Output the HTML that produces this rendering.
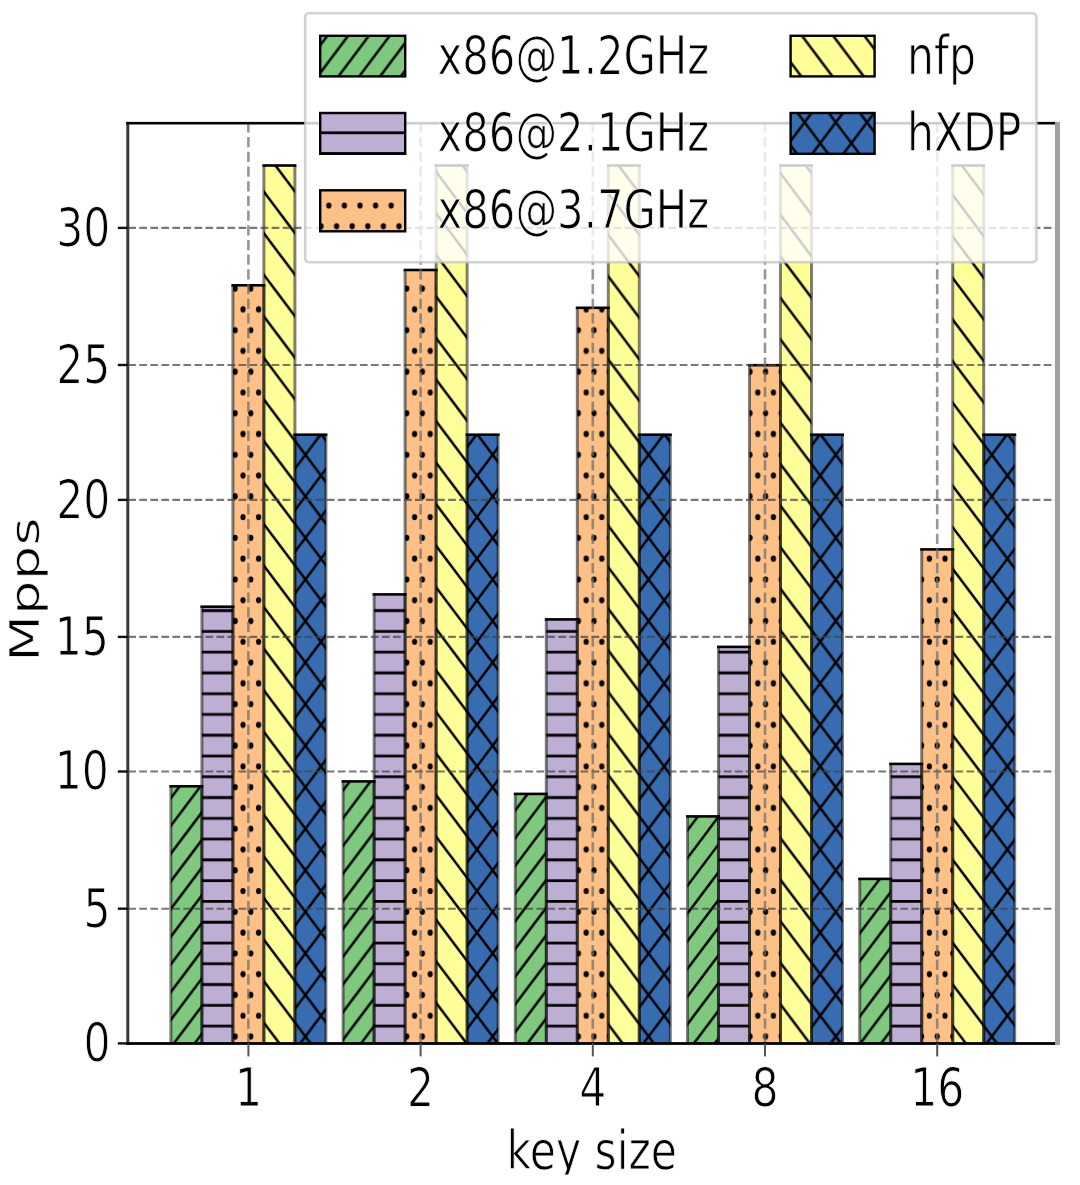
<!DOCTYPE html>
<html><head><meta charset="utf-8"><title>Mpps vs key size</title>
<style>html,body{margin:0;padding:0;background:#fff;}svg{display:block;filter:blur(0.45px);}</style>
</head><body><svg width="1080" height="1185" viewBox="0 0 1080 1185"><defs><pattern id="hg" patternUnits="userSpaceOnUse" x="9" y="16.5" width="187.2" height="249.3"><g stroke="#000" stroke-width="2.5"><line x1="-56.16" y1="47.09" x2="243.36" y2="-351.79"/><line x1="-56.16" y1="74.79" x2="243.36" y2="-324.09"/><line x1="-56.16" y1="102.49" x2="243.36" y2="-296.39"/><line x1="-56.16" y1="130.19" x2="243.36" y2="-268.69"/><line x1="-56.16" y1="157.89" x2="243.36" y2="-240.99"/><line x1="-56.16" y1="185.59" x2="243.36" y2="-213.29"/><line x1="-56.16" y1="213.29" x2="243.36" y2="-185.59"/><line x1="-56.16" y1="240.99" x2="243.36" y2="-157.89"/><line x1="-56.16" y1="268.69" x2="243.36" y2="-130.19"/><line x1="-56.16" y1="296.39" x2="243.36" y2="-102.49"/><line x1="-56.16" y1="324.09" x2="243.36" y2="-74.79"/><line x1="-56.16" y1="351.79" x2="243.36" y2="-47.09"/><line x1="-56.16" y1="379.49" x2="243.36" y2="-19.39"/><line x1="-56.16" y1="407.19" x2="243.36" y2="8.31"/><line x1="-56.16" y1="434.89" x2="243.36" y2="36.01"/><line x1="-56.16" y1="462.59" x2="243.36" y2="63.71"/><line x1="-56.16" y1="490.29" x2="243.36" y2="91.41"/><line x1="-56.16" y1="517.99" x2="243.36" y2="119.11"/><line x1="-56.16" y1="545.69" x2="243.36" y2="146.81"/><line x1="-56.16" y1="573.39" x2="243.36" y2="174.51"/><line x1="-56.16" y1="601.09" x2="243.36" y2="202.21"/></g></pattern><pattern id="hy" patternUnits="userSpaceOnUse" x="9" y="18.5" width="187.2" height="249.3"><g stroke="#000" stroke-width="2.5"><line x1="-56.16" y1="-365.64" x2="243.36" y2="33.24"/><line x1="-56.16" y1="-324.09" x2="243.36" y2="74.79"/><line x1="-56.16" y1="-282.54" x2="243.36" y2="116.34"/><line x1="-56.16" y1="-240.99" x2="243.36" y2="157.89"/><line x1="-56.16" y1="-199.44" x2="243.36" y2="199.44"/><line x1="-56.16" y1="-157.89" x2="243.36" y2="240.99"/><line x1="-56.16" y1="-116.34" x2="243.36" y2="282.54"/><line x1="-56.16" y1="-74.79" x2="243.36" y2="324.09"/><line x1="-56.16" y1="-33.24" x2="243.36" y2="365.64"/><line x1="-56.16" y1="8.31" x2="243.36" y2="407.19"/><line x1="-56.16" y1="49.86" x2="243.36" y2="448.74"/><line x1="-56.16" y1="91.41" x2="243.36" y2="490.29"/><line x1="-56.16" y1="132.96" x2="243.36" y2="531.84"/><line x1="-56.16" y1="174.51" x2="243.36" y2="573.39"/><line x1="-56.16" y1="216.06" x2="243.36" y2="614.94"/></g></pattern><pattern id="hb" patternUnits="userSpaceOnUse" x="9" y="18.5" width="187.2" height="249.3"><g stroke="#000" stroke-width="2.5"><line x1="-56.16" y1="33.24" x2="243.36" y2="-365.64"/><line x1="-56.16" y1="74.79" x2="243.36" y2="-324.09"/><line x1="-56.16" y1="116.34" x2="243.36" y2="-282.54"/><line x1="-56.16" y1="157.89" x2="243.36" y2="-240.99"/><line x1="-56.16" y1="199.44" x2="243.36" y2="-199.44"/><line x1="-56.16" y1="240.99" x2="243.36" y2="-157.89"/><line x1="-56.16" y1="282.54" x2="243.36" y2="-116.34"/><line x1="-56.16" y1="324.09" x2="243.36" y2="-74.79"/><line x1="-56.16" y1="365.64" x2="243.36" y2="-33.24"/><line x1="-56.16" y1="407.19" x2="243.36" y2="8.31"/><line x1="-56.16" y1="448.74" x2="243.36" y2="49.86"/><line x1="-56.16" y1="490.29" x2="243.36" y2="91.41"/><line x1="-56.16" y1="531.84" x2="243.36" y2="132.96"/><line x1="-56.16" y1="573.39" x2="243.36" y2="174.51"/><line x1="-56.16" y1="614.94" x2="243.36" y2="216.06"/><line x1="-56.16" y1="-365.64" x2="243.36" y2="33.24"/><line x1="-56.16" y1="-324.09" x2="243.36" y2="74.79"/><line x1="-56.16" y1="-282.54" x2="243.36" y2="116.34"/><line x1="-56.16" y1="-240.99" x2="243.36" y2="157.89"/><line x1="-56.16" y1="-199.44" x2="243.36" y2="199.44"/><line x1="-56.16" y1="-157.89" x2="243.36" y2="240.99"/><line x1="-56.16" y1="-116.34" x2="243.36" y2="282.54"/><line x1="-56.16" y1="-74.79" x2="243.36" y2="324.09"/><line x1="-56.16" y1="-33.24" x2="243.36" y2="365.64"/><line x1="-56.16" y1="8.31" x2="243.36" y2="407.19"/><line x1="-56.16" y1="49.86" x2="243.36" y2="448.74"/><line x1="-56.16" y1="91.41" x2="243.36" y2="490.29"/><line x1="-56.16" y1="132.96" x2="243.36" y2="531.84"/><line x1="-56.16" y1="174.51" x2="243.36" y2="573.39"/><line x1="-56.16" y1="216.06" x2="243.36" y2="614.94"/></g></pattern><pattern id="hp" patternUnits="userSpaceOnUse" x="9" y="18.5" width="187.2" height="249.3"><g stroke="#000" stroke-width="2.8"><line x1="-5" y1="10.39" x2="192.2" y2="10.39"/><line x1="-5" y1="31.16" x2="192.2" y2="31.16"/><line x1="-5" y1="51.94" x2="192.2" y2="51.94"/><line x1="-5" y1="72.71" x2="192.2" y2="72.71"/><line x1="-5" y1="93.49" x2="192.2" y2="93.49"/><line x1="-5" y1="114.26" x2="192.2" y2="114.26"/><line x1="-5" y1="135.04" x2="192.2" y2="135.04"/><line x1="-5" y1="155.81" x2="192.2" y2="155.81"/><line x1="-5" y1="176.59" x2="192.2" y2="176.59"/><line x1="-5" y1="197.36" x2="192.2" y2="197.36"/><line x1="-5" y1="218.14" x2="192.2" y2="218.14"/><line x1="-5" y1="238.91" x2="192.2" y2="238.91"/></g></pattern><pattern id="ho" patternUnits="userSpaceOnUse" x="9" y="18.5" width="187.2" height="249.3"><g fill="#000"><ellipse cx="0" cy="0" rx="2.6" ry="3.1"/><ellipse cx="15.6" cy="0" rx="2.6" ry="3.1"/><ellipse cx="31.2" cy="0" rx="2.6" ry="3.1"/><ellipse cx="46.8" cy="0" rx="2.6" ry="3.1"/><ellipse cx="62.4" cy="0" rx="2.6" ry="3.1"/><ellipse cx="78" cy="0" rx="2.6" ry="3.1"/><ellipse cx="93.6" cy="0" rx="2.6" ry="3.1"/><ellipse cx="109.2" cy="0" rx="2.6" ry="3.1"/><ellipse cx="124.8" cy="0" rx="2.6" ry="3.1"/><ellipse cx="140.4" cy="0" rx="2.6" ry="3.1"/><ellipse cx="156" cy="0" rx="2.6" ry="3.1"/><ellipse cx="171.6" cy="0" rx="2.6" ry="3.1"/><ellipse cx="187.2" cy="0" rx="2.6" ry="3.1"/><ellipse cx="7.8" cy="20.78" rx="2.6" ry="3.1"/><ellipse cx="23.4" cy="20.78" rx="2.6" ry="3.1"/><ellipse cx="39" cy="20.78" rx="2.6" ry="3.1"/><ellipse cx="54.6" cy="20.78" rx="2.6" ry="3.1"/><ellipse cx="70.2" cy="20.78" rx="2.6" ry="3.1"/><ellipse cx="85.8" cy="20.78" rx="2.6" ry="3.1"/><ellipse cx="101.4" cy="20.78" rx="2.6" ry="3.1"/><ellipse cx="117" cy="20.78" rx="2.6" ry="3.1"/><ellipse cx="132.6" cy="20.78" rx="2.6" ry="3.1"/><ellipse cx="148.2" cy="20.78" rx="2.6" ry="3.1"/><ellipse cx="163.8" cy="20.78" rx="2.6" ry="3.1"/><ellipse cx="179.4" cy="20.78" rx="2.6" ry="3.1"/><ellipse cx="0" cy="41.55" rx="2.6" ry="3.1"/><ellipse cx="15.6" cy="41.55" rx="2.6" ry="3.1"/><ellipse cx="31.2" cy="41.55" rx="2.6" ry="3.1"/><ellipse cx="46.8" cy="41.55" rx="2.6" ry="3.1"/><ellipse cx="62.4" cy="41.55" rx="2.6" ry="3.1"/><ellipse cx="78" cy="41.55" rx="2.6" ry="3.1"/><ellipse cx="93.6" cy="41.55" rx="2.6" ry="3.1"/><ellipse cx="109.2" cy="41.55" rx="2.6" ry="3.1"/><ellipse cx="124.8" cy="41.55" rx="2.6" ry="3.1"/><ellipse cx="140.4" cy="41.55" rx="2.6" ry="3.1"/><ellipse cx="156" cy="41.55" rx="2.6" ry="3.1"/><ellipse cx="171.6" cy="41.55" rx="2.6" ry="3.1"/><ellipse cx="187.2" cy="41.55" rx="2.6" ry="3.1"/><ellipse cx="7.8" cy="62.33" rx="2.6" ry="3.1"/><ellipse cx="23.4" cy="62.33" rx="2.6" ry="3.1"/><ellipse cx="39" cy="62.33" rx="2.6" ry="3.1"/><ellipse cx="54.6" cy="62.33" rx="2.6" ry="3.1"/><ellipse cx="70.2" cy="62.33" rx="2.6" ry="3.1"/><ellipse cx="85.8" cy="62.33" rx="2.6" ry="3.1"/><ellipse cx="101.4" cy="62.33" rx="2.6" ry="3.1"/><ellipse cx="117" cy="62.33" rx="2.6" ry="3.1"/><ellipse cx="132.6" cy="62.33" rx="2.6" ry="3.1"/><ellipse cx="148.2" cy="62.33" rx="2.6" ry="3.1"/><ellipse cx="163.8" cy="62.33" rx="2.6" ry="3.1"/><ellipse cx="179.4" cy="62.33" rx="2.6" ry="3.1"/><ellipse cx="0" cy="83.1" rx="2.6" ry="3.1"/><ellipse cx="15.6" cy="83.1" rx="2.6" ry="3.1"/><ellipse cx="31.2" cy="83.1" rx="2.6" ry="3.1"/><ellipse cx="46.8" cy="83.1" rx="2.6" ry="3.1"/><ellipse cx="62.4" cy="83.1" rx="2.6" ry="3.1"/><ellipse cx="78" cy="83.1" rx="2.6" ry="3.1"/><ellipse cx="93.6" cy="83.1" rx="2.6" ry="3.1"/><ellipse cx="109.2" cy="83.1" rx="2.6" ry="3.1"/><ellipse cx="124.8" cy="83.1" rx="2.6" ry="3.1"/><ellipse cx="140.4" cy="83.1" rx="2.6" ry="3.1"/><ellipse cx="156" cy="83.1" rx="2.6" ry="3.1"/><ellipse cx="171.6" cy="83.1" rx="2.6" ry="3.1"/><ellipse cx="187.2" cy="83.1" rx="2.6" ry="3.1"/><ellipse cx="7.8" cy="103.88" rx="2.6" ry="3.1"/><ellipse cx="23.4" cy="103.88" rx="2.6" ry="3.1"/><ellipse cx="39" cy="103.88" rx="2.6" ry="3.1"/><ellipse cx="54.6" cy="103.88" rx="2.6" ry="3.1"/><ellipse cx="70.2" cy="103.88" rx="2.6" ry="3.1"/><ellipse cx="85.8" cy="103.88" rx="2.6" ry="3.1"/><ellipse cx="101.4" cy="103.88" rx="2.6" ry="3.1"/><ellipse cx="117" cy="103.88" rx="2.6" ry="3.1"/><ellipse cx="132.6" cy="103.88" rx="2.6" ry="3.1"/><ellipse cx="148.2" cy="103.88" rx="2.6" ry="3.1"/><ellipse cx="163.8" cy="103.88" rx="2.6" ry="3.1"/><ellipse cx="179.4" cy="103.88" rx="2.6" ry="3.1"/><ellipse cx="0" cy="124.65" rx="2.6" ry="3.1"/><ellipse cx="15.6" cy="124.65" rx="2.6" ry="3.1"/><ellipse cx="31.2" cy="124.65" rx="2.6" ry="3.1"/><ellipse cx="46.8" cy="124.65" rx="2.6" ry="3.1"/><ellipse cx="62.4" cy="124.65" rx="2.6" ry="3.1"/><ellipse cx="78" cy="124.65" rx="2.6" ry="3.1"/><ellipse cx="93.6" cy="124.65" rx="2.6" ry="3.1"/><ellipse cx="109.2" cy="124.65" rx="2.6" ry="3.1"/><ellipse cx="124.8" cy="124.65" rx="2.6" ry="3.1"/><ellipse cx="140.4" cy="124.65" rx="2.6" ry="3.1"/><ellipse cx="156" cy="124.65" rx="2.6" ry="3.1"/><ellipse cx="171.6" cy="124.65" rx="2.6" ry="3.1"/><ellipse cx="187.2" cy="124.65" rx="2.6" ry="3.1"/><ellipse cx="7.8" cy="145.43" rx="2.6" ry="3.1"/><ellipse cx="23.4" cy="145.43" rx="2.6" ry="3.1"/><ellipse cx="39" cy="145.43" rx="2.6" ry="3.1"/><ellipse cx="54.6" cy="145.43" rx="2.6" ry="3.1"/><ellipse cx="70.2" cy="145.43" rx="2.6" ry="3.1"/><ellipse cx="85.8" cy="145.43" rx="2.6" ry="3.1"/><ellipse cx="101.4" cy="145.43" rx="2.6" ry="3.1"/><ellipse cx="117" cy="145.43" rx="2.6" ry="3.1"/><ellipse cx="132.6" cy="145.43" rx="2.6" ry="3.1"/><ellipse cx="148.2" cy="145.43" rx="2.6" ry="3.1"/><ellipse cx="163.8" cy="145.43" rx="2.6" ry="3.1"/><ellipse cx="179.4" cy="145.43" rx="2.6" ry="3.1"/><ellipse cx="0" cy="166.2" rx="2.6" ry="3.1"/><ellipse cx="15.6" cy="166.2" rx="2.6" ry="3.1"/><ellipse cx="31.2" cy="166.2" rx="2.6" ry="3.1"/><ellipse cx="46.8" cy="166.2" rx="2.6" ry="3.1"/><ellipse cx="62.4" cy="166.2" rx="2.6" ry="3.1"/><ellipse cx="78" cy="166.2" rx="2.6" ry="3.1"/><ellipse cx="93.6" cy="166.2" rx="2.6" ry="3.1"/><ellipse cx="109.2" cy="166.2" rx="2.6" ry="3.1"/><ellipse cx="124.8" cy="166.2" rx="2.6" ry="3.1"/><ellipse cx="140.4" cy="166.2" rx="2.6" ry="3.1"/><ellipse cx="156" cy="166.2" rx="2.6" ry="3.1"/><ellipse cx="171.6" cy="166.2" rx="2.6" ry="3.1"/><ellipse cx="187.2" cy="166.2" rx="2.6" ry="3.1"/><ellipse cx="7.8" cy="186.98" rx="2.6" ry="3.1"/><ellipse cx="23.4" cy="186.98" rx="2.6" ry="3.1"/><ellipse cx="39" cy="186.98" rx="2.6" ry="3.1"/><ellipse cx="54.6" cy="186.98" rx="2.6" ry="3.1"/><ellipse cx="70.2" cy="186.98" rx="2.6" ry="3.1"/><ellipse cx="85.8" cy="186.98" rx="2.6" ry="3.1"/><ellipse cx="101.4" cy="186.98" rx="2.6" ry="3.1"/><ellipse cx="117" cy="186.98" rx="2.6" ry="3.1"/><ellipse cx="132.6" cy="186.98" rx="2.6" ry="3.1"/><ellipse cx="148.2" cy="186.98" rx="2.6" ry="3.1"/><ellipse cx="163.8" cy="186.98" rx="2.6" ry="3.1"/><ellipse cx="179.4" cy="186.98" rx="2.6" ry="3.1"/><ellipse cx="0" cy="207.75" rx="2.6" ry="3.1"/><ellipse cx="15.6" cy="207.75" rx="2.6" ry="3.1"/><ellipse cx="31.2" cy="207.75" rx="2.6" ry="3.1"/><ellipse cx="46.8" cy="207.75" rx="2.6" ry="3.1"/><ellipse cx="62.4" cy="207.75" rx="2.6" ry="3.1"/><ellipse cx="78" cy="207.75" rx="2.6" ry="3.1"/><ellipse cx="93.6" cy="207.75" rx="2.6" ry="3.1"/><ellipse cx="109.2" cy="207.75" rx="2.6" ry="3.1"/><ellipse cx="124.8" cy="207.75" rx="2.6" ry="3.1"/><ellipse cx="140.4" cy="207.75" rx="2.6" ry="3.1"/><ellipse cx="156" cy="207.75" rx="2.6" ry="3.1"/><ellipse cx="171.6" cy="207.75" rx="2.6" ry="3.1"/><ellipse cx="187.2" cy="207.75" rx="2.6" ry="3.1"/><ellipse cx="7.8" cy="228.53" rx="2.6" ry="3.1"/><ellipse cx="23.4" cy="228.53" rx="2.6" ry="3.1"/><ellipse cx="39" cy="228.53" rx="2.6" ry="3.1"/><ellipse cx="54.6" cy="228.53" rx="2.6" ry="3.1"/><ellipse cx="70.2" cy="228.53" rx="2.6" ry="3.1"/><ellipse cx="85.8" cy="228.53" rx="2.6" ry="3.1"/><ellipse cx="101.4" cy="228.53" rx="2.6" ry="3.1"/><ellipse cx="117" cy="228.53" rx="2.6" ry="3.1"/><ellipse cx="132.6" cy="228.53" rx="2.6" ry="3.1"/><ellipse cx="148.2" cy="228.53" rx="2.6" ry="3.1"/><ellipse cx="163.8" cy="228.53" rx="2.6" ry="3.1"/><ellipse cx="179.4" cy="228.53" rx="2.6" ry="3.1"/><ellipse cx="0" cy="249.3" rx="2.6" ry="3.1"/><ellipse cx="15.6" cy="249.3" rx="2.6" ry="3.1"/><ellipse cx="31.2" cy="249.3" rx="2.6" ry="3.1"/><ellipse cx="46.8" cy="249.3" rx="2.6" ry="3.1"/><ellipse cx="62.4" cy="249.3" rx="2.6" ry="3.1"/><ellipse cx="78" cy="249.3" rx="2.6" ry="3.1"/><ellipse cx="93.6" cy="249.3" rx="2.6" ry="3.1"/><ellipse cx="109.2" cy="249.3" rx="2.6" ry="3.1"/><ellipse cx="124.8" cy="249.3" rx="2.6" ry="3.1"/><ellipse cx="140.4" cy="249.3" rx="2.6" ry="3.1"/><ellipse cx="156" cy="249.3" rx="2.6" ry="3.1"/><ellipse cx="171.6" cy="249.3" rx="2.6" ry="3.1"/><ellipse cx="187.2" cy="249.3" rx="2.6" ry="3.1"/></g></pattern><clipPath id="clipbot"><rect x="0" y="0" width="1080" height="1174.5"/></clipPath></defs><rect width="1080" height="1185" fill="#fff"/><g><rect x="170.9" y="786.3" width="31" height="257.1" fill="#7fc97f"/><rect x="170.9" y="786.3" width="31" height="257.1" fill="url(#hg)"/><rect x="343.1" y="781.4" width="31" height="262" fill="#7fc97f"/><rect x="343.1" y="781.4" width="31" height="262" fill="url(#hg)"/><rect x="515.3" y="793.9" width="31" height="249.5" fill="#7fc97f"/><rect x="515.3" y="793.9" width="31" height="249.5" fill="url(#hg)"/><rect x="687.5" y="816.4" width="31" height="227" fill="#7fc97f"/><rect x="687.5" y="816.4" width="31" height="227" fill="url(#hg)"/><rect x="859.7" y="878.9" width="31" height="164.5" fill="#7fc97f"/><rect x="859.7" y="878.9" width="31" height="164.5" fill="url(#hg)"/><rect x="201.9" y="606.7" width="31" height="436.7" fill="#beaed4"/><rect x="201.9" y="606.7" width="31" height="436.7" fill="url(#hp)"/><rect x="374.1" y="594.4" width="31" height="449" fill="#beaed4"/><rect x="374.1" y="594.4" width="31" height="449" fill="url(#hp)"/><rect x="546.3" y="619.4" width="31" height="424" fill="#beaed4"/><rect x="546.3" y="619.4" width="31" height="424" fill="url(#hp)"/><rect x="718.5" y="646.9" width="31" height="396.5" fill="#beaed4"/><rect x="718.5" y="646.9" width="31" height="396.5" fill="url(#hp)"/><rect x="890.7" y="763.9" width="31" height="279.5" fill="#beaed4"/><rect x="890.7" y="763.9" width="31" height="279.5" fill="url(#hp)"/><rect x="232.9" y="285.3" width="31" height="758.1" fill="#fdc086"/><rect x="232.9" y="285.3" width="31" height="758.1" fill="url(#ho)"/><rect x="405.1" y="270" width="31" height="773.4" fill="#fdc086"/><rect x="405.1" y="270" width="31" height="773.4" fill="url(#ho)"/><rect x="577.3" y="307.8" width="31" height="735.6" fill="#fdc086"/><rect x="577.3" y="307.8" width="31" height="735.6" fill="url(#ho)"/><rect x="749.5" y="365.2" width="31" height="678.2" fill="#fdc086"/><rect x="749.5" y="365.2" width="31" height="678.2" fill="url(#ho)"/><rect x="921.7" y="549.4" width="31" height="494" fill="#fdc086"/><rect x="921.7" y="549.4" width="31" height="494" fill="url(#ho)"/><rect x="263.9" y="165.5" width="31" height="877.9" fill="#ffff99"/><rect x="263.9" y="165.5" width="31" height="877.9" fill="url(#hy)"/><rect x="436.1" y="165.5" width="31" height="877.9" fill="#ffff99"/><rect x="436.1" y="165.5" width="31" height="877.9" fill="url(#hy)"/><rect x="608.3" y="165.5" width="31" height="877.9" fill="#ffff99"/><rect x="608.3" y="165.5" width="31" height="877.9" fill="url(#hy)"/><rect x="780.5" y="165.5" width="31" height="877.9" fill="#ffff99"/><rect x="780.5" y="165.5" width="31" height="877.9" fill="url(#hy)"/><rect x="952.7" y="165.5" width="31" height="877.9" fill="#ffff99"/><rect x="952.7" y="165.5" width="31" height="877.9" fill="url(#hy)"/><rect x="294.9" y="434.7" width="31" height="608.7" fill="#386cb0"/><rect x="294.9" y="434.7" width="31" height="608.7" fill="url(#hb)"/><rect x="467.1" y="434.7" width="31" height="608.7" fill="#386cb0"/><rect x="467.1" y="434.7" width="31" height="608.7" fill="url(#hb)"/><rect x="639.3" y="434.7" width="31" height="608.7" fill="#386cb0"/><rect x="639.3" y="434.7" width="31" height="608.7" fill="url(#hb)"/><rect x="811.5" y="434.7" width="31" height="608.7" fill="#386cb0"/><rect x="811.5" y="434.7" width="31" height="608.7" fill="url(#hb)"/><rect x="983.7" y="434.7" width="31" height="608.7" fill="#386cb0"/><rect x="983.7" y="434.7" width="31" height="608.7" fill="url(#hb)"/></g><g fill="#000" fill-opacity="0.5"><rect x="169.4" y="786.3" width="3.0" height="257.1"/><rect x="200.4" y="786.3" width="3.0" height="257.1"/><rect x="341.6" y="781.4" width="3.0" height="262"/><rect x="372.6" y="781.4" width="3.0" height="262"/><rect x="513.8" y="793.9" width="3.0" height="249.5"/><rect x="544.8" y="793.9" width="3.0" height="249.5"/><rect x="686" y="816.4" width="3.0" height="227"/><rect x="717" y="816.4" width="3.0" height="227"/><rect x="858.2" y="878.9" width="3.0" height="164.5"/><rect x="889.2" y="878.9" width="3.0" height="164.5"/><rect x="200.4" y="606.7" width="3.0" height="436.7"/><rect x="231.4" y="606.7" width="3.0" height="436.7"/><rect x="372.6" y="594.4" width="3.0" height="449"/><rect x="403.6" y="594.4" width="3.0" height="449"/><rect x="544.8" y="619.4" width="3.0" height="424"/><rect x="575.8" y="619.4" width="3.0" height="424"/><rect x="717" y="646.9" width="3.0" height="396.5"/><rect x="748" y="646.9" width="3.0" height="396.5"/><rect x="889.2" y="763.9" width="3.0" height="279.5"/><rect x="920.2" y="763.9" width="3.0" height="279.5"/><rect x="231.4" y="285.3" width="3.0" height="758.1"/><rect x="262.4" y="285.3" width="3.0" height="758.1"/><rect x="403.6" y="270" width="3.0" height="773.4"/><rect x="434.6" y="270" width="3.0" height="773.4"/><rect x="575.8" y="307.8" width="3.0" height="735.6"/><rect x="606.8" y="307.8" width="3.0" height="735.6"/><rect x="748" y="365.2" width="3.0" height="678.2"/><rect x="779" y="365.2" width="3.0" height="678.2"/><rect x="920.2" y="549.4" width="3.0" height="494"/><rect x="951.2" y="549.4" width="3.0" height="494"/><rect x="262.4" y="165.5" width="3.0" height="877.9"/><rect x="293.4" y="165.5" width="3.0" height="877.9"/><rect x="434.6" y="165.5" width="3.0" height="877.9"/><rect x="465.6" y="165.5" width="3.0" height="877.9"/><rect x="606.8" y="165.5" width="3.0" height="877.9"/><rect x="637.8" y="165.5" width="3.0" height="877.9"/><rect x="779" y="165.5" width="3.0" height="877.9"/><rect x="810" y="165.5" width="3.0" height="877.9"/><rect x="951.2" y="165.5" width="3.0" height="877.9"/><rect x="982.2" y="165.5" width="3.0" height="877.9"/><rect x="293.4" y="434.7" width="3.0" height="608.7"/><rect x="324.4" y="434.7" width="3.0" height="608.7"/><rect x="465.6" y="434.7" width="3.0" height="608.7"/><rect x="496.6" y="434.7" width="3.0" height="608.7"/><rect x="637.8" y="434.7" width="3.0" height="608.7"/><rect x="668.8" y="434.7" width="3.0" height="608.7"/><rect x="810" y="434.7" width="3.0" height="608.7"/><rect x="841" y="434.7" width="3.0" height="608.7"/><rect x="982.2" y="434.7" width="3.0" height="608.7"/><rect x="1013.2" y="434.7" width="3.0" height="608.7"/></g><g fill="#000"><rect x="169.4" y="785" width="34" height="2.6"/><rect x="341.6" y="780.1" width="34" height="2.6"/><rect x="513.8" y="792.6" width="34" height="2.6"/><rect x="686" y="815.1" width="34" height="2.6"/><rect x="858.2" y="877.6" width="34" height="2.6"/><rect x="200.4" y="605.4" width="34" height="2.6"/><rect x="372.6" y="593.1" width="34" height="2.6"/><rect x="544.8" y="618.1" width="34" height="2.6"/><rect x="717" y="645.6" width="34" height="2.6"/><rect x="889.2" y="762.6" width="34" height="2.6"/><rect x="231.4" y="284" width="34" height="2.6"/><rect x="403.6" y="268.7" width="34" height="2.6"/><rect x="575.8" y="306.5" width="34" height="2.6"/><rect x="748" y="363.9" width="34" height="2.6"/><rect x="920.2" y="548.1" width="34" height="2.6"/><rect x="262.4" y="164.2" width="34" height="2.6"/><rect x="434.6" y="164.2" width="34" height="2.6"/><rect x="606.8" y="164.2" width="34" height="2.6"/><rect x="779" y="164.2" width="34" height="2.6"/><rect x="951.2" y="164.2" width="34" height="2.6"/><rect x="293.4" y="433.4" width="34" height="2.6"/><rect x="465.6" y="433.4" width="34" height="2.6"/><rect x="637.8" y="433.4" width="34" height="2.6"/><rect x="810" y="433.4" width="34" height="2.6"/><rect x="982.2" y="433.4" width="34" height="2.6"/></g><g stroke="#444" stroke-width="2.1" stroke-opacity="0.72"><line x1="128.25" y1="908.7" x2="1057.0" y2="908.7" stroke-dasharray="7.7 3.33"/><line x1="128.25" y1="771.5" x2="1057.0" y2="771.5" stroke-dasharray="7.7 3.33"/><line x1="128.25" y1="636.9" x2="1057.0" y2="636.9" stroke-dasharray="7.7 3.33"/><line x1="128.25" y1="499.9" x2="1057.0" y2="499.9" stroke-dasharray="7.7 3.33"/><line x1="128.25" y1="365.0" x2="1057.0" y2="365.0" stroke-dasharray="7.7 3.33"/><line x1="128.25" y1="227.9" x2="1057.0" y2="227.9" stroke-dasharray="7.7 3.33"/></g><g stroke="#6e6e6e" stroke-width="2.6" stroke-opacity="0.72"><line x1="248.4" y1="1043.4" x2="248.4" y2="123.2" stroke-dasharray="10.25 4.44"/><line x1="420.6" y1="1043.4" x2="420.6" y2="123.2" stroke-dasharray="10.25 4.44"/><line x1="592.8" y1="1043.4" x2="592.8" y2="123.2" stroke-dasharray="10.25 4.44"/><line x1="765" y1="1043.4" x2="765" y2="123.2" stroke-dasharray="10.25 4.44"/><line x1="937.2" y1="1043.4" x2="937.2" y2="123.2" stroke-dasharray="10.25 4.44"/></g><rect x="126.3" y="121.9" width="3" height="922.8000000000001" fill="#3a3a3a"/><rect x="126.3" y="121.9" width="930.7" height="2.6" fill="#000"/><rect x="126.3" y="1042.1000000000001" width="930.7" height="2.8" fill="#000"/><rect x="1055" y="121.9" width="5" height="923.0" fill="#a0a0a0"/><g fill="#111"><rect x="117.8" y="1042.2" width="10" height="2.4"/><rect x="117.8" y="907.5" width="10" height="2.4"/><rect x="117.8" y="770.3" width="10" height="2.4"/><rect x="117.8" y="635.7" width="10" height="2.4"/><rect x="117.8" y="498.7" width="10" height="2.4"/><rect x="117.8" y="363.8" width="10" height="2.4"/><rect x="117.8" y="226.7" width="10" height="2.4"/><rect x="247.4" y="1043.4" width="2.0" height="13" fill="#555"/><rect x="419.6" y="1043.4" width="2.0" height="13" fill="#555"/><rect x="591.8" y="1043.4" width="2.0" height="13" fill="#555"/><rect x="764" y="1043.4" width="2.0" height="13" fill="#555"/><rect x="936.2" y="1043.4" width="2.0" height="13" fill="#555"/></g><g font-family="DejaVu Sans, Liberation Sans, sans-serif" fill="#000" stroke="#fff" stroke-width="1.1" stroke-opacity="0.9"><text transform="translate(110.6,1061.3) scale(0.81,1)" text-anchor="end" font-size="52.5">0</text><text transform="translate(110.6,926.6) scale(0.81,1)" text-anchor="end" font-size="52.5">5</text><text transform="translate(108.9,789.4) scale(0.81,1)" text-anchor="end" font-size="52.5">10</text><text transform="translate(108.9,654.8) scale(0.81,1)" text-anchor="end" font-size="52.5">15</text><text transform="translate(110.3,517.8) scale(0.81,1)" text-anchor="end" font-size="52.5">20</text><text transform="translate(110.3,382.9) scale(0.81,1)" text-anchor="end" font-size="52.5">25</text><text transform="translate(110.3,245.8) scale(0.81,1)" text-anchor="end" font-size="52.5">30</text><text transform="translate(248.4,1106.2) scale(0.81,1)" text-anchor="middle" font-size="52.5">1</text><text transform="translate(420.6,1106.2) scale(0.81,1)" text-anchor="middle" font-size="52.5">2</text><text transform="translate(592.8,1106.2) scale(0.81,1)" text-anchor="middle" font-size="52.5">4</text><text transform="translate(765,1106.2) scale(0.81,1)" text-anchor="middle" font-size="52.5">8</text><text transform="translate(937.2,1106.2) scale(0.81,1)" text-anchor="middle" font-size="52.5">16</text><g clip-path="url(#clipbot)"><text transform="translate(591.8,1168.7) scale(0.81,1)" text-anchor="middle" font-size="52.5">key size</text></g><text transform="translate(38.9,589.6) scale(0.745,1) rotate(-90)" text-anchor="middle" font-size="54.6">Mpps</text></g><g><rect x="305.2" y="13.3" width="731.2" height="248.9" rx="3.5" ry="3.5" fill="#fff" fill-opacity="0.8" stroke="#c4c4c4" stroke-opacity="0.75" stroke-width="2.6"/><rect x="320.2" y="35.8" width="85.0" height="40.6" fill="#7fc97f"/><rect x="320.2" y="35.8" width="85.0" height="40.6" fill="url(#hg)"/><rect x="320.2" y="35.8" width="85.0" height="40.6" fill="none" stroke="#000" stroke-width="2.4"/><rect x="320.2" y="113.0" width="85.0" height="40.8" fill="#beaed4"/><rect x="320.2" y="113.0" width="85.0" height="40.8" fill="url(#hp)"/><rect x="320.2" y="113.0" width="85.0" height="40.8" fill="none" stroke="#000" stroke-width="2.4"/><rect x="320.2" y="190.3" width="85.0" height="41" fill="#fdc086"/><rect x="320.2" y="190.3" width="85.0" height="41" fill="url(#ho)"/><rect x="320.2" y="190.3" width="85.0" height="41" fill="none" stroke="#000" stroke-width="2.4"/><rect x="790.6" y="35.8" width="84.0" height="40.6" fill="#ffff99"/><rect x="790.6" y="35.8" width="84.0" height="40.6" fill="url(#hy)"/><rect x="790.6" y="35.8" width="84.0" height="40.6" fill="none" stroke="#000" stroke-width="2.4"/><rect x="790.6" y="113.0" width="84.0" height="40.8" fill="#386cb0"/><rect x="790.6" y="113.0" width="84.0" height="40.8" fill="url(#hb)"/><rect x="790.6" y="113.0" width="84.0" height="40.8" fill="none" stroke="#000" stroke-width="2.4"/></g><g font-family="DejaVu Sans, Liberation Sans, sans-serif" fill="#000" stroke="#fff" stroke-width="1.1" stroke-opacity="0.9"><text transform="translate(437.6,73.7) scale(0.795,1)" text-anchor="start" font-size="52.5">x86@1.2GHz</text><text transform="translate(437.6,151.3) scale(0.795,1)" text-anchor="start" font-size="52.5">x86@2.1GHz</text><text transform="translate(437.6,228.3) scale(0.795,1)" text-anchor="start" font-size="52.5">x86@3.7GHz</text><text transform="translate(907,73.7) scale(0.81,1)" text-anchor="start" font-size="52.5">nfp</text><text transform="translate(907,151.3) scale(0.81,1)" text-anchor="start" font-size="52.5">hXDP</text></g></svg></body></html>
